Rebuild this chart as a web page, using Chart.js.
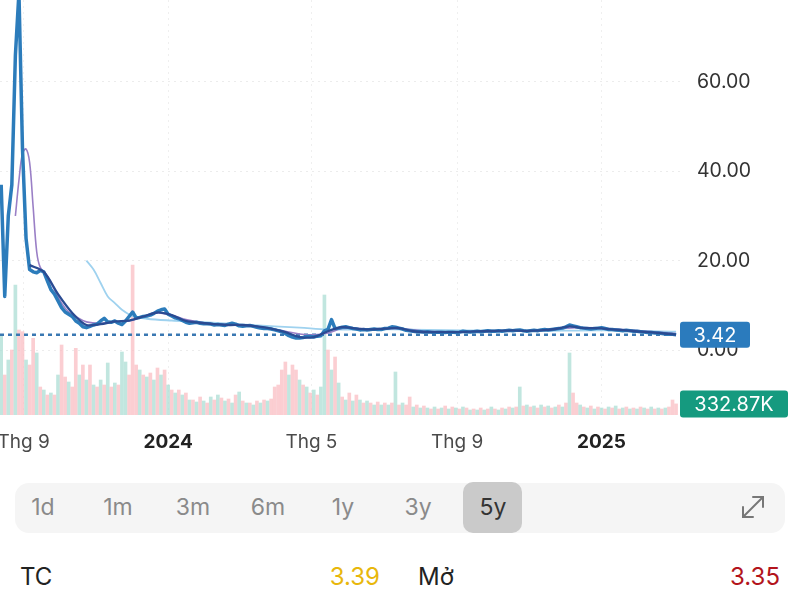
<!DOCTYPE html>
<html>
<head>
<meta charset="utf-8">
<script src="https://cdn.jsdelivr.net/npm/chart.js@4/dist/chart.umd.min.js"></script>
<style>
  body{margin:0;background:#fff;font-family:Inter,"Noto Sans",sans-serif;}
  #wrap{position:relative;width:800px;height:600px;overflow:hidden;}
  #c{position:absolute;left:0;top:0;}
  .panel{position:absolute;left:15px;top:483px;width:770px;height:50px;background:#f5f5f5;border-radius:14px;}
  .sel{position:absolute;left:463px;top:482px;width:59px;height:51px;background:#cacaca;border-radius:10px;}
  .rg{position:absolute;top:493px;width:60px;margin-left:-30px;text-align:center;font-size:23px;line-height:28px;color:#8a8a8a;}
  .rg.on{color:#333;}
  .row{position:absolute;top:562px;font-size:24px;line-height:30px;color:#222;}
</style>
</head>
<body>
<div id="wrap">
  <canvas id="c" width="800" height="470"></canvas>
  <div class="panel"></div>
  <div class="sel"></div>
  <div id="ranges"></div>
  <svg style="position:absolute;left:738px;top:492px" width="30" height="30" viewBox="0 0 30 30">
    <g stroke="#777" stroke-width="2" fill="none" stroke-linecap="round">
      <path d="M5 25 L25 5"/><path d="M15 5 H25 V15"/><path d="M5 15 V25 H15"/>
    </g>
  </svg>
  <div class="row" style="left:20px">TC</div>
  <div class="row" style="right:420px;color:#e8b70c">3.39</div>
  <div class="row" style="left:418px">Mở</div>
  <div class="row" style="right:20px;color:#b3141c">3.35</div>
</div>
<script>
// ---------- DATA ----------
const ORIGIN = '2023-09-01';
const START = '2023-08-13', STEP_DAYS = 3;      // one sample every 3 days
const X_FROM = '2023-08-12', X_TO = '2025-03-10';
const tickDates  = ['2023-09-01','2024-01-01','2024-05-01','2024-09-01','2025-01-01'];
const tickLabels = ['Thg 9','2024','Thg 5','Thg 9','2025'];
const priceTicks = [0, 20, 40, 60];
const ranges = ['1d','1m','3m','6m','1y','3y','5y'];
const activeRange = '5y';
const lastPrice = 3.42, lastVolK = 332.87;

const prices = [
  37, 12, 30, 37, 66, 80, 45, 25, 18, 17.5,
  17.3, 17.8, 17.5, 15.5, 13.5, 12.5, 11, 9.5, 8.5, 8,
  7.5, 6.5, 6, 5.2, 5, 5.3, 5.6, 5.8, 6.5, 7.1,
  6.3, 6.2, 6.5, 6, 5.7, 6.5, 7.5, 8.5, 7.2, 7.3,
  7.5, 7.6, 7.8, 8.2, 8.7, 9.0, 9.2, 8, 7.6, 7.2,
  7.0, 6.6, 6.2, 6.0, 6.1, 6.2, 6.0, 5.9, 5.9, 5.8,
  5.6, 5.7, 5.6, 5.5, 5.8, 6.0, 5.8, 5.4, 5.3, 5.4,
  5.5, 5.3, 5.1, 4.9, 4.8, 4.8, 4.7, 4.5, 4.3, 4.1,
  3.7, 3.2, 2.9, 2.7, 2.7, 2.8, 3.0, 3.0, 2.9, 3.1,
  3.2, 4.3, 4.6, 6.8, 4.8, 4.9, 5.1, 5.2, 5.0, 4.8,
  4.7, 4.5, 4.6, 4.5, 4.6, 4.7, 4.6, 4.6, 4.8, 4.9,
  5.2, 5.1, 4.9, 4.7, 4.4, 4.3, 4.2, 4.1, 4.1, 4.0,
  4.1, 4.0, 3.9, 4.0, 4.0, 3.9, 4.0, 4.0, 3.9, 4.0,
  4.2, 4.1, 4.0, 4.1, 4.2, 4.1, 4.2, 4.3, 4.2, 4.2,
  4.3, 4.2, 4.3, 4.4, 4.3, 4.4, 4.5, 4.3, 4.2, 4.3,
  4.4, 4.3, 4.5, 4.6, 4.5, 4.6, 4.7, 4.8, 4.9, 5.2,
  5.6, 5.4, 5.2, 5.0, 4.9, 4.8, 4.7, 4.8, 4.9, 5.0,
  4.8, 4.6, 4.6, 4.5, 4.4, 4.3, 4.4, 4.3, 4.2, 4.2,
  4.1, 4.0, 3.9, 3.9, 3.8, 3.8, 3.7, 3.6, 3.5, 3.5,
  3.42
];

// volume in thousands; negative = down day (red), positive = up day (green)
const volumes = [
  2400, -1200, 1650, -1950, 3900, -2550, -2500, 1650, -1500, -2300,
  1860, -840, 750, -600, 660, -600, 1200, -2100, -1140, 990,
  -840, -2000, 1200, -1500, 1050, -1500, 900, -840, 1050, -900,
  1560, -840, 960, -900, 1890, 1590, -1200, -4500, -1500, 1350,
  -1200, 1140, -1260, 1050, -1410, 1200, -1350, 900, -750, 660,
  -750, 600, -660, 450, -450, 390, -540, 420, -360, 540,
  -450, 600, -510, 420, -480, 360, -600, 690, -420, 360,
  -360, 300, -420, 360, -450, 420, -480, -840, -900, -1350,
  -1590, 1200, -1500, -1350, 1050, -900, 840, -660, 750, -600,
  840, 3600, -1950, 1350, -1740, 960, -540, 450, -660, 420,
  -600, 450, -360, 420, -360, 300, -390, 300, -360, 300,
  -360, 1290, -300, 360, -300, -540, 240, -300, 210, -270,
  210, -180, 240, -180, 210, -270, 180, -240, 210, -180,
  240, -210, 150, -180, 150, -210, 150, -180, 240, -180,
  150, -210, 180, -240, 210, -240, 840, -270, 300, -240,
  270, -210, 300, -240, 270, -210, 240, -300, 240, -360,
  1860, -660, -360, 300, -240, 210, -270, 180, -240, 210,
  -180, 240, -210, 270, -180, 210, -240, 180, -210, 180,
  -240, 210, -180, 240, -180, 210, -180, 210, -240, -450,
  -332.87
];

// moving averages, sampled at sample indexes
const maNavyIdx = [8,12,16,20,24,28,32,36,40,44,48,52,56,60,64,68,72,76,80,84,88,92,96,100,104,108,112,116,120,124,128,132,136,140,144,148,152,156,160,164,168,172,176,180,184,188,190];
const maNavyVal = [19,17.5,12.5,8.3,5.6,5.8,6.4,6.6,7.5,8.4,7.8,6.5,6.1,5.8,5.6,5.6,5.3,4.8,4.0,2.9,2.9,4.2,5.1,4.8,4.6,4.8,4.9,4.2,4.0,4.0,4.0,4.1,4.2,4.3,4.4,4.3,4.4,4.7,5.3,4.9,4.9,4.6,4.4,4.1,3.9,3.6,3.45];
const maPurpleIdx = [4,5,6,7,8,9,10,11,13,15,17,19,21,24,28,32,36,40,44,48,52,58,64,70,76,80,84,88,92,96,104,112,120,135,150,162,175,190];
const maPurpleVal = [30,38,44,45,42,32,22,18.5,16.5,13.5,10.5,8.5,7.5,6.3,6.0,6.3,6.5,7.5,8.3,7.8,6.8,6.0,5.7,5.4,4.8,4.2,3.6,3.4,3.8,4.8,4.7,4.8,4.2,4.1,4.3,5.0,4.6,3.7];
const maLightIdx = [24,26,28,30,32,34,37,41,48,56,70,84,92,110,130,150,170,190];
const maLightVal = [20,18,15,12,10.5,9,7.6,7,6.6,6.3,5.6,5,4.6,4.6,4.4,4.3,4.4,4.1];

// ---------- HELPERS ----------
const FONT = 'Inter, "Noto Sans", sans-serif';
const dayOf = d => (Date.parse(d) - Date.parse(ORIGIN)) / 86400000;
const xAt = i => dayOf(START) + i * STEP_DAYS;
const pts = (idx, val) => idx.map((i, k) => ({x: xAt(i), y: val[k]}));
const isYear = i => /^\d{4}$/.test(tickLabels[i]);

document.getElementById('ranges').innerHTML = ranges.map((r, k) =>
  `<div class="rg${r === activeRange ? ' on' : ''}" style="left:${43 + k * 75}px">${r}</div>`).join('');

function badge(ctx, x, y, w, h, bg, text) {
  ctx.save();
  ctx.fillStyle = bg;
  ctx.beginPath();
  ctx.roundRect(x, y - h / 2, w, h, 3);
  ctx.fill();
  ctx.fillStyle = '#fff';
  ctx.font = '20px ' + FONT;
  ctx.textAlign = 'center';
  ctx.textBaseline = 'middle';
  ctx.fillText(text, x + w / 2, y + 1);
  ctx.restore();
}

const badges = {
  id: 'badges',
  afterDraw(chart) {
    const {ctx, scales, chartArea} = chart;
    badge(ctx, chartArea.right - 2, scales.y.getPixelForValue(lastPrice), 70, 26, '#2b7bbd', lastPrice.toFixed(2));
    badge(ctx, chartArea.right - 2, scales.vol.getPixelForValue(lastVolK), 108, 27, '#159a7f', lastVolK.toFixed(2) + 'K');
  }
};

const xMin = dayOf(X_FROM), xMax = dayOf(X_TO);

new Chart(document.getElementById('c'), {
  data: {
    datasets: [
      {type: 'line', data: pts(maNavyIdx, maNavyVal), borderColor: '#2a4b92', borderWidth: 2.3,
        pointRadius: 0, tension: 0.3, order: 0},
      {type: 'line', data: prices.map((v, i) => ({x: xAt(i), y: v})), borderColor: '#2c7cbb', borderWidth: 3.5,
        pointRadius: 0, borderJoinStyle: 'round', order: 1},
      {type: 'line', data: pts(maPurpleIdx, maPurpleVal), borderColor: '#9a7fc6', borderWidth: 1.6,
        pointRadius: 0, tension: 0.35, order: 2},
      {type: 'line', data: pts(maLightIdx, maLightVal), borderColor: '#9fd2ef', borderWidth: 1.8,
        pointRadius: 0, tension: 0.35, order: 3},
      {type: 'line', data: [{x: xMin, y: lastPrice}, {x: xMax, y: lastPrice}], borderColor: '#3a78b2',
        borderWidth: 2.5, borderDash: [4, 4], pointRadius: 0, order: 4},
      {type: 'bar', yAxisID: 'vol', data: volumes.map((v, i) => ({x: xAt(i), y: Math.abs(v)})),
        backgroundColor: volumes.map(v => v >= 0 ? 'rgba(172,222,212,0.75)' : 'rgba(250,190,195,0.75)'),
        barThickness: 3, order: 10}
    ]
  },
  options: {
    responsive: false,
    animation: false,
    layout: {padding: 0},
    plugins: {legend: {display: false}, tooltip: {enabled: false}},
    scales: {
      x: {
        type: 'linear', min: xMin, max: xMax, offset: false,
        afterBuildTicks: s => { s.ticks = tickDates.map(d => ({value: dayOf(d)})); },
        afterFit: s => { s.height = 55; s.paddingLeft = 0; s.paddingRight = 0; },
        grid: {color: '#efefef', drawTicks: false, offset: false},
        border: {display: false, dash: [2, 4]},
        ticks: {
          autoSkip: false, maxRotation: 0, padding: 16,
          callback: (v, i) => tickLabels[i],
          color: c => isYear(c.index) ? '#222' : '#4a4a4a',
          font: c => ({family: FONT, size: 19, weight: isYear(c.index) ? 'bold' : 'normal'})
        }
      },
      y: {
        position: 'right', min: -14.55, max: 78.35,
        afterBuildTicks: s => { s.ticks = priceTicks.map(v => ({value: v})); },
        afterFit: s => { s.width = 118; s.paddingTop = 0; s.paddingBottom = 0; },
        grid: {color: '#ececec', drawTicks: false},
        border: {display: false, dash: [2, 4]},
        ticks: {padding: 15, color: '#333', font: {family: FONT, size: 19.5},
          callback: v => v.toFixed(2)}
      },
      vol: {display: false, min: 0, max: 12450}
    }
  },
  plugins: [badges]
});
</script>
</body>
</html>
